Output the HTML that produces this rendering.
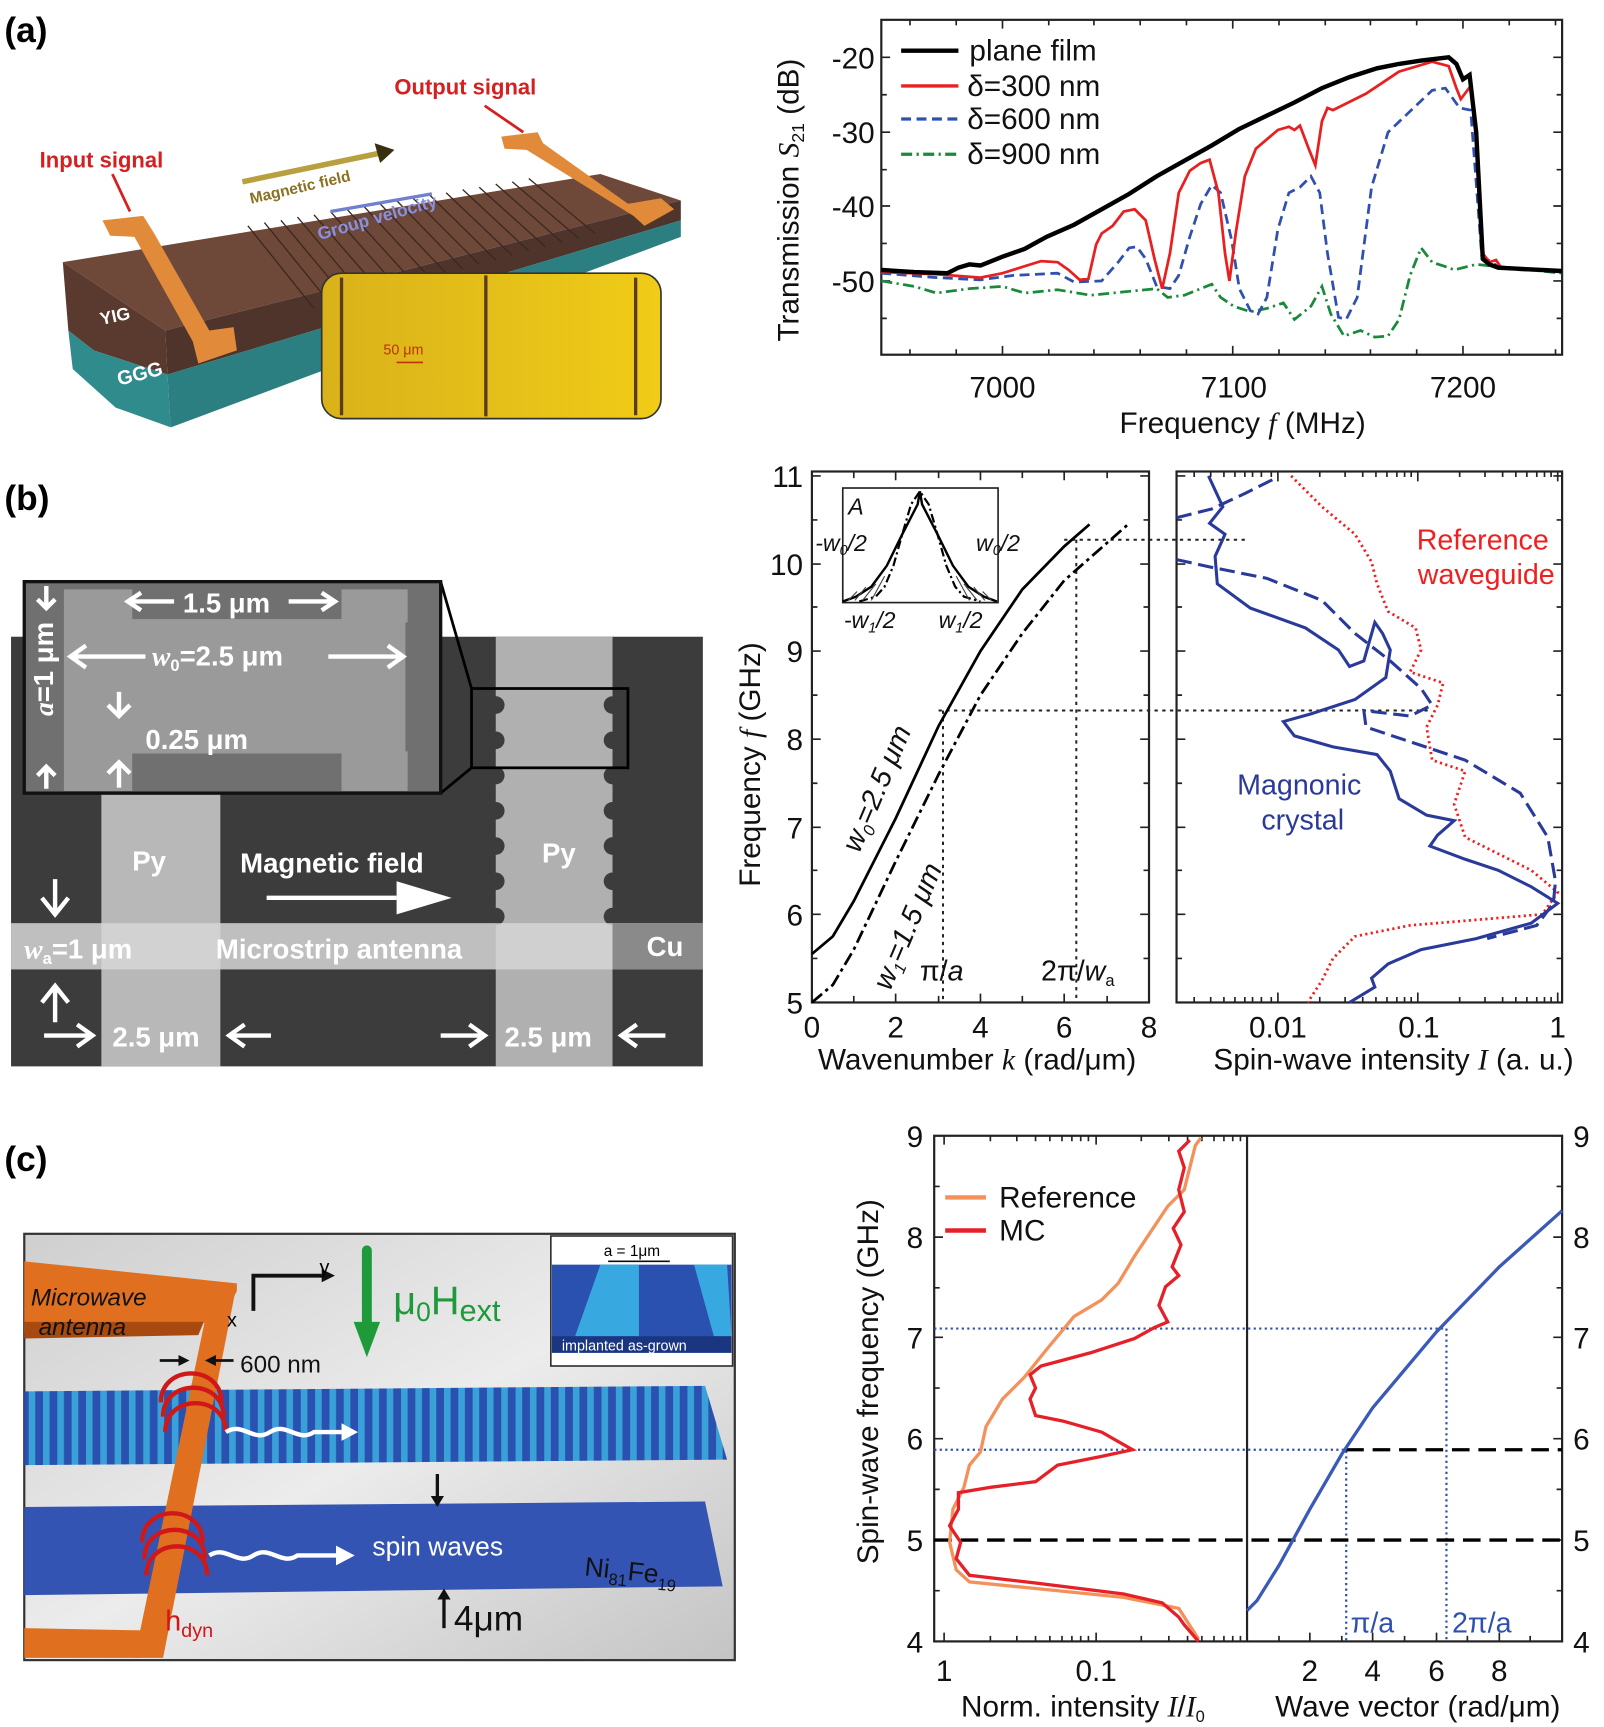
<!DOCTYPE html>
<html><head><meta charset="utf-8"><style>
html,body{margin:0;padding:0;background:#fff}
svg{display:block}
text{font-family:"Liberation Sans",Arial,sans-serif}
.t{font-size:27px;fill:#111}
</style></head><body>
<svg width="1604" height="1727" viewBox="0 0 1456 1567.7" xmlns="http://www.w3.org/2000/svg">
<defs>
<linearGradient id="gy" x1="0" x2="1"><stop offset="0" stop-color="#d9b21a"/><stop offset="1" stop-color="#f0cc18"/></linearGradient>
<linearGradient id="gc" x1="0" x2="1" y1="0" y2="1"><stop offset="0" stop-color="#cfcfcf"/><stop offset="0.5" stop-color="#ececec"/><stop offset="1" stop-color="#c4c4c4"/></linearGradient>
<pattern id="str" width="13" height="10" patternUnits="userSpaceOnUse"><rect width="13" height="10" fill="#2a50b0"/><rect width="6" height="10" fill="#3aa0d8"/></pattern>
</defs>

<!-- ===== (a) left illustration ===== -->
<text x="4" y="38" font-size="32" font-weight="bold">(a)</text>
<polygon points="57,238 545,158 618,182 150,300" fill="#6e4838"/>
<polygon points="57,238 150,300 152,340 85,318 62,300" fill="#5a3a2e"/>
<polygon points="62,300 85,318 152,340 155,388 105,370 66,335" fill="#2f8b8c"/>
<polygon points="150,300 618,182 618,200 152,340" fill="#4e342a"/>
<polygon points="152,340 618,200 618,215 155,388" fill="#2c7f80"/>
<g stroke="#3d281f" stroke-width="1.2">
<line x1="225" y1="205" x2="285" y2="280"/><line x1="240" y1="202" x2="300" y2="276"/><line x1="255" y1="200" x2="315" y2="272"/><line x1="270" y1="197" x2="330" y2="268"/><line x1="285" y1="195" x2="345" y2="264"/><line x1="300" y1="192" x2="360" y2="260"/><line x1="315" y1="190" x2="375" y2="256"/><line x1="330" y1="187" x2="390" y2="252"/><line x1="345" y1="185" x2="405" y2="248"/><line x1="360" y1="182" x2="420" y2="244"/><line x1="375" y1="180" x2="435" y2="240"/><line x1="390" y1="177" x2="450" y2="236"/><line x1="405" y1="175" x2="465" y2="232"/><line x1="420" y1="172" x2="480" y2="228"/><line x1="435" y1="170" x2="495" y2="224"/><line x1="450" y1="167" x2="510" y2="220"/><line x1="465" y1="165" x2="525" y2="216"/><line x1="480" y1="162" x2="540" y2="212"/>
</g>
<polygon points="93,200 130,196 140,212 190,300 212,297 215,318 180,330 175,310 122,215 100,214" fill="#e08a3a"/>
<polygon points="455,124 488,120 493,130 570,185 600,180 612,190 585,205 575,196 478,136 458,135" fill="#e08a3a"/>
<text x="36" y="152" font-size="20" font-weight="bold" fill="#d42020">Input signal</text>
<line x1="102" y1="158" x2="118" y2="192" stroke="#d42020" stroke-width="2.5"/>
<text x="358" y="86" font-size="20" font-weight="bold" fill="#d42020">Output signal</text>
<line x1="440" y1="96" x2="475" y2="120" stroke="#d42020" stroke-width="2.5"/>
<line x1="220" y1="165" x2="345" y2="139" stroke="#b8a040" stroke-width="5"/>
<polygon points="340,130 358,136 345,148" fill="#3a3010"/>
<text x="228" y="185" font-size="14" font-weight="bold" fill="#8a7020" transform="rotate(-13 228 185)">Magnetic field</text>
<line x1="300" y1="192" x2="392" y2="176" stroke="#7080d0" stroke-width="3"/>
<text x="290" y="218" font-size="16" font-weight="bold" fill="#8890e0" transform="rotate(-16 290 218)">Group velocity</text>
<text x="92" y="295" font-size="16" font-weight="bold" fill="#fff" transform="rotate(-12 92 295)">YIG</text>
<text x="108" y="350" font-size="18" font-weight="bold" fill="#fff" transform="rotate(-14 108 350)">GGG</text>
<rect x="292" y="248" width="308" height="132" rx="18" fill="url(#gy)" stroke="#333" stroke-width="1.5"/>
<g stroke="#5a3a20" stroke-width="3"><line x1="310" y1="252" x2="310" y2="377"/><line x1="441" y1="250" x2="441" y2="378"/><line x1="577" y1="252" x2="577" y2="377"/></g>
<text x="348" y="322" font-size="13" fill="#c03010">50 μm</text>
<line x1="360" y1="329" x2="384" y2="329" stroke="#c03010" stroke-width="1.5"/>

<!-- ===== (a) right plot ===== -->
<rect x="800" y="18" width="618" height="304" fill="none" stroke="#222" stroke-width="2"/>
<g stroke="#222" stroke-width="1.5">
<path d="M800,52h8M800,86h5M800,120h8M800,154h5M800,187h8M800,221h5M800,255h8M800,289h5"/>
<path d="M1418,52h-8M1418,86h-5M1418,120h-8M1418,154h-5M1418,187h-8M1418,221h-5M1418,255h-8M1418,289h-5"/>
<path d="M826,322v-5M868,322v-5M910,322v-8M952,322v-5M993,322v-5M1035,322v-5M1077,322v-5M1119,322v-8M1161,322v-5M1203,322v-5M1244,322v-5M1286,322v-5M1328,322v-8M1370,322v-5M1412,322v-5"/>
<path d="M826,18v5M868,18v5M910,18v8M952,18v5M993,18v5M1035,18v5M1077,18v5M1119,18v8M1161,18v5M1203,18v5M1244,18v5M1286,18v5M1328,18v8M1370,18v5M1412,18v5"/>
</g>
<g class="t" text-anchor="end"><text x="794" y="62">-20</text><text x="794" y="130">-30</text><text x="794" y="197">-40</text><text x="794" y="265">-50</text></g>
<g class="t" text-anchor="middle"><text x="910" y="361">7000</text><text x="1120" y="361">7100</text><text x="1328" y="361">7200</text></g>
<text class="t" x="1128" y="393" text-anchor="middle">Frequency <tspan font-family="Liberation Serif" font-style="italic">f</tspan> (MHz)</text>
<text class="t" transform="translate(725,310) rotate(-90)">Transmission <tspan font-family="Liberation Serif" font-style="italic">S</tspan><tspan font-size="16" dy="5">21</tspan><tspan dy="-5"> (dB)</tspan></text>
<polyline fill="none" stroke="#1a8a3a" stroke-width="2.5" stroke-dasharray="10,4,2,4" points="800,255 830,260 850,266 880,262 910,260 930,266 960,263 990,268 1020,265 1050,262 1060,270 1075,268 1090,262 1100,258 1108,270 1120,278 1135,283 1150,280 1165,275 1175,290 1190,278 1200,260 1208,285 1220,305 1235,300 1248,306 1260,305 1270,290 1280,250 1290,225 1300,238 1312,242 1320,245 1340,240 1418,248"/>
<polyline fill="none" stroke="#3050b0" stroke-width="2.5" stroke-dasharray="9,5" points="800,248 850,252 890,254 920,250 960,248 975,256 1000,255 1015,238 1025,225 1032,224 1040,235 1050,260 1062,262 1070,250 1080,215 1090,185 1100,168 1108,175 1118,218 1125,262 1135,282 1142,285 1150,270 1160,208 1170,175 1180,170 1190,160 1198,175 1205,230 1215,288 1222,290 1232,270 1245,170 1260,120 1300,82 1312,80 1325,98 1335,100 1345,232 1360,242 1418,247"/>
<polyline fill="none" stroke="#e82020" stroke-width="2.5" points="800,247 850,249 890,252 910,248 945,237 960,238 970,245 980,254 988,253 995,222 1000,212 1010,205 1020,192 1030,190 1040,200 1048,235 1055,262 1062,230 1070,175 1080,155 1090,148 1098,145 1106,175 1112,230 1116,255 1122,210 1130,160 1140,135 1160,118 1170,115 1175,118 1180,114 1188,135 1194,150 1200,110 1205,98 1210,100 1240,85 1270,65 1300,56 1315,60 1322,80 1326,90 1335,78 1340,118 1346,230 1352,238 1358,236 1362,242 1380,245 1418,246"/>
<polyline fill="none" stroke="#000" stroke-width="4" points="800,245 830,247 860,248 870,243 880,240 890,241 910,233 930,226 950,215 975,204 1000,190 1025,176 1050,160 1075,146 1100,132 1125,117 1150,105 1175,93 1200,80 1225,70 1250,62 1270,58 1290,55 1315,52 1322,58 1328,72 1334,68 1340,120 1346,235 1352,240 1360,243 1418,246"/>
<g stroke-width="3"><line x1="818" y1="46" x2="870" y2="46" stroke="#000" stroke-width="4"/><line x1="818" y1="78" x2="870" y2="78" stroke="#e82020"/><line x1="818" y1="108" x2="870" y2="108" stroke="#3050b0" stroke-dasharray="9,5"/><line x1="818" y1="140" x2="870" y2="140" stroke="#1a8a3a" stroke-dasharray="10,4,2,4"/></g>
<g class="t" font-size="26"><text x="880" y="55">plane film</text><text x="878" y="87">δ=300 nm</text><text x="878" y="117">δ=600 nm</text><text x="878" y="149">δ=900 nm</text></g>

<!-- ===== (b) left image ===== -->
<text x="4" y="463" font-size="32" font-weight="bold">(b)</text>
<rect x="10" y="578" width="628" height="390" fill="#3c3c3c"/>
<rect x="92" y="578" width="108" height="390" fill="#b8b8b8"/>
<path d="M450,578 h106 v390 h-106 z" fill="#b0b0b0"/>
<g fill="#3c3c3c"><circle cx="450" cy="640" r="8"/><circle cx="450" cy="672" r="8"/><circle cx="450" cy="704" r="8"/><circle cx="450" cy="736" r="8"/><circle cx="450" cy="768" r="8"/><circle cx="450" cy="800" r="8"/><circle cx="450" cy="832" r="8"/><circle cx="556" cy="640" r="8"/><circle cx="556" cy="672" r="8"/><circle cx="556" cy="704" r="8"/><circle cx="556" cy="736" r="8"/><circle cx="556" cy="768" r="8"/><circle cx="556" cy="800" r="8"/><circle cx="556" cy="832" r="8"/></g>
<rect x="10" y="838" width="628" height="42" fill="#d6d6d6" opacity="0.85"/>
<rect x="556" y="838" width="82" height="42" fill="#8a8a8a"/>
<rect x="428" y="625" width="142" height="72" fill="none" stroke="#000" stroke-width="2.5"/>
<line x1="400" y1="528" x2="428" y2="625" stroke="#000" stroke-width="2.5"/>
<line x1="400" y1="720" x2="428" y2="697" stroke="#000" stroke-width="2.5"/>
<rect x="22" y="528" width="378" height="192" fill="#707070" stroke="#111" stroke-width="3"/>
<rect x="58" y="562" width="310" height="122" fill="#9a9a9a"/>
<rect x="58" y="535" width="62" height="30" fill="#9a9a9a"/><rect x="310" y="535" width="60" height="30" fill="#9a9a9a"/>
<rect x="58" y="682" width="62" height="36" fill="#9a9a9a"/><rect x="310" y="682" width="60" height="36" fill="#9a9a9a"/>
<g fill="#fff" font-weight="bold" font-size="25">
<text x="166" y="556">1.5 μm</text><text x="138" y="604"><tspan font-family="Liberation Serif" font-style="italic">w</tspan><tspan font-size="15" dy="5">0</tspan><tspan dy="-5">=2.5 μm</tspan></text>
<text x="132" y="680">0.25 μm</text>
<text x="48" y="650" transform="rotate(-90 48 650)"><tspan font-family="Liberation Serif" font-style="italic">a</tspan>=1 μm</text>
<text x="120" y="790">Py</text><text x="492" y="783">Py</text><text x="218" y="792">Magnetic field</text>
<text x="22" y="870"><tspan font-family="Liberation Serif" font-style="italic">w</tspan><tspan font-size="15" dy="5">a</tspan><tspan dy="-5">=1 μm</tspan></text>
<text x="196" y="870">Microstrip antenna</text><text x="587" y="868">Cu</text>
<text x="102" y="950">2.5 μm</text><text x="458" y="950">2.5 μm</text>
</g>
<g stroke="#fff" stroke-width="4" fill="none">
<path d="M242,815 H360"/><path d="M50,798 v30 M38,815 l12,15 l12,-15"/><path d="M50,928 v-30 M38,910 l12,-15 l12,15"/>
<path d="M40,940 h44 M70,930 l14,10 l-14,10"/><path d="M246,940 h-36 M222,930 l-14,10 l14,10"/>
<path d="M400,940 h38 M426,930 l14,10 l-14,10"/><path d="M604,940 h-38 M578,930 l-14,10 l14,10"/>
<path d="M118,546 h40 M128,538 l-12,8 l12,8"/><path d="M302,546 h-40 M292,538 l12,8 l-12,8"/>
<path d="M66,596 h66 M78,586 l-14,10 l14,10"/><path d="M298,596 h66 M352,586 l14,10 l-14,10"/>
<path d="M108,628 v20 M98,640 l10,10 l10,-10"/><path d="M108,715 v-20 M98,702 l10,-10 l10,10"/>
<path d="M42,532 v18 M34,544 l8,8 l8,-8"/><path d="M42,716 v-18 M34,704 l8,-8 l8,8"/>
</g>
<polygon points="360,800 410,815 360,830" fill="#fff"/>

<!-- ===== (b) dispersion plot ===== -->
<rect x="737" y="428" width="306" height="482" fill="none" stroke="#222" stroke-width="2"/>
<g stroke="#222" stroke-width="1.5">
<path d="M737,910h8M737,870h5M737,830h8M737,790h5M737,751h8M737,711h5M737,671h8M737,631h5M737,591h8M737,551h5M737,512h8M737,472h5M737,432h8"/>
<path d="M1043,910h-8M1043,870h-5M1043,830h-8M1043,790h-5M1043,751h-8M1043,711h-5M1043,671h-8M1043,631h-5M1043,591h-8M1043,551h-5M1043,512h-8M1043,472h-5M1043,432h-8"/>
<path d="M775,910v-6M813,910v-8M852,910v-6M890,910v-8M928,910v-6M966,910v-8M1005,910v-6"/>
<path d="M775,428v6M813,428v8M852,428v6M890,428v8M928,428v6M966,428v8M1005,428v6"/>
</g>
<g class="t" text-anchor="end" font-size="28"><text x="729" y="920">5</text><text x="729" y="840">6</text><text x="729" y="761">7</text><text x="729" y="681">8</text><text x="729" y="601">9</text><text x="729" y="522">10</text><text x="729" y="442">11</text></g>
<g class="t" text-anchor="middle" font-size="28"><text x="737" y="942">0</text><text x="813" y="942">2</text><text x="890" y="942">4</text><text x="966" y="942">6</text><text x="1043" y="942">8</text></g>
<text class="t" x="887" y="971" text-anchor="middle">Wavenumber <tspan font-family="Liberation Serif" font-style="italic">k</tspan> (rad/μm)</text>
<text class="t" transform="translate(690,805) rotate(-90)">Frequency <tspan font-family="Liberation Serif" font-style="italic">f</tspan>  (GHz)</text>
<g stroke="#222" stroke-width="1.8" stroke-dasharray="3,4" fill="none">
<path d="M966,490H1132"/><path d="M852,645H1300"/><path d="M856,645V910"/><path d="M977,490V910"/>
</g>
<polyline fill="none" stroke="#000" stroke-width="2.5" points="737,866 756,850 775,818 813,743 852,659 890,591 928,535 966,496 989,476"/>
<polyline fill="none" stroke="#000" stroke-width="2.5" stroke-dasharray="12,4,3,4" points="737,910 756,894 775,862 813,782 852,703 890,631 928,575 966,527 1024,476"/>
<g font-family="Liberation Serif" font-style="italic" font-size="26" fill="#111">
<text transform="translate(780,775) rotate(-67)">w<tspan font-size="15" dy="5">0</tspan><tspan dy="-5">=2.5 μm</tspan></text>
<text transform="translate(808,900) rotate(-67)">w<tspan font-size="15" dy="5">1</tspan><tspan dy="-5">=1.5 μm</tspan></text>
<text x="835" y="890" font-style="normal">π/<tspan font-style="italic">a</tspan></text>
<text x="945" y="890" font-style="normal">2π/<tspan font-style="italic">w</tspan><tspan font-size="15" dy="5" font-style="normal">a</tspan></text>
</g>
<rect x="765" y="443" width="141" height="104" fill="#fff" stroke="#222" stroke-width="1.5"/>
<polyline fill="none" stroke="#000" stroke-width="2.2" points="765,546 777,541.6 791,532.5 805,513.5 819,485 833,457.8 835,446 837,457.8 851,485 865,513.5 879,532.5 893,541.6 905,546"/>
<polyline fill="none" stroke="#000" stroke-width="2" stroke-dasharray="8,3,2,3" points="780,546 795,541.6 803,532.5 811,513.5 819,485 827,457.8 835,446 843,457.8 851,485 859,513.5 867,532.5 875,541.6 890,546"/>
<g stroke="#444" stroke-width="1"><path d="M770,545l8,-8M776,545l10,-12M783,545l12,-15M791,545l12,-22M900,545l-8,-8M894,545l-10,-12M887,545l-12,-15M880,545l-12,-22"/></g>
<g font-family="Liberation Serif" font-style="italic" font-size="21" fill="#111">
<text x="770" y="467">A</text><text x="740" y="500">-w<tspan font-size="13" dy="4">0</tspan><tspan dy="-4">/2</tspan></text><text x="886" y="500">w<tspan font-size="13" dy="4">0</tspan><tspan dy="-4">/2</tspan></text>
<text x="766" y="570">-w<tspan font-size="13" dy="4">1</tspan><tspan dy="-4">/2</tspan></text><text x="852" y="570">w<tspan font-size="13" dy="4">1</tspan><tspan dy="-4">/2</tspan></text>
</g>

<!-- ===== (b) intensity plot ===== -->
<rect x="1068" y="428" width="350" height="482" fill="none" stroke="#222" stroke-width="2"/>
<g stroke="#222" stroke-width="1.5">
<path d="M1068,910h8M1068,870h5M1068,830h8M1068,790h5M1068,751h8M1068,711h5M1068,671h8M1068,631h5M1068,591h8M1068,551h5M1068,512h8M1068,472h5M1068,432h8"/>
<path d="M1418,910h-8M1418,870h-5M1418,830h-8M1418,790h-5M1418,751h-8M1418,711h-5M1418,671h-8M1418,631h-5M1418,591h-8M1418,551h-5M1418,512h-8M1418,472h-5M1418,432h-8"/>
<path d="M1084,910v-5M1099,910v-5M1111,910v-5M1121,910v-5M1130,910v-5M1137,910v-5M1145,910v-5M1154,910v-5M1160,910v-9M1198,910v-5M1221,910v-5M1237,910v-5M1249,910v-5M1259,910v-5M1268,910v-5M1275,910v-5M1281,910v-5M1287,910v-9M1325,910v-5M1348,910v-5M1364,910v-5M1376,910v-5M1386,910v-5M1395,910v-5M1402,910v-5M1408,910v-5M1414,910v-9"/>
<path d="M1084,428v5M1099,428v5M1111,428v5M1121,428v5M1130,428v5M1137,428v5M1145,428v5M1154,428v5M1160,428v9M1198,428v5M1221,428v5M1237,428v5M1249,428v5M1259,428v5M1268,428v5M1275,428v5M1281,428v5M1287,428v9M1325,428v5M1348,428v5M1364,428v5M1376,428v5M1386,428v5M1395,428v5M1402,428v5M1408,428v5M1414,428v9"/>
</g>
<g class="t" text-anchor="middle" font-size="28"><text x="1160" y="942">0.01</text><text x="1288" y="942">0.1</text><text x="1414" y="942">1</text></g>
<text class="t" x="1265" y="971" text-anchor="middle">Spin-wave intensity <tspan font-family="Liberation Serif" font-style="italic">I</tspan> (a. u.)</text>
<polyline fill="none" stroke="#f02020" stroke-width="2.5" stroke-dasharray="2,3" points="1172,432 1200,460 1230,485 1245,510 1250,530 1260,555 1285,570 1290,590 1280,610 1310,620 1305,640 1295,660 1300,690 1330,700 1320,730 1330,760 1360,775 1390,790 1414,810 1400,830 1340,835 1280,840 1230,850 1210,870 1200,890 1187,910"/>
<g fill="none" stroke="#2a3a9a" stroke-width="2.8">
<polyline stroke-dasharray="14,6" points="1068,470 1100,462 1130,448 1160,433"/>
<polyline stroke-dasharray="14,6" points="1068,508 1100,515 1150,525 1200,545 1230,575 1262,600 1290,625 1300,640 1280,650 1238,645 1240,660 1270,670 1330,690 1380,720 1405,760 1412,800 1410,820 1395,840 1350,852"/>
<polyline points="1097,432 1110,460 1098,475 1112,485 1103,505 1105,530 1135,552 1185,570 1215,590 1225,605 1238,600 1248,565 1255,575 1262,590 1258,615 1230,635 1190,648 1165,655 1175,668 1210,678 1250,685 1262,700 1270,725 1295,740 1320,745 1305,758 1298,768 1330,780 1360,790 1390,805 1414,820 1390,838 1340,852 1290,862 1260,875 1245,888 1248,896 1225,910"/>
</g>
<g font-size="26"><text x="1286" y="499" fill="#f02020">Reference</text><text x="1287" y="530" fill="#f02020">waveguide</text><text x="1123" y="721" fill="#2a3a9a">Magnonic</text><text x="1145" y="753" fill="#2a3a9a">crystal</text></g>

<!-- ===== (c) left illustration ===== -->
<text x="4" y="1063" font-size="32" font-weight="bold">(c)</text>
<rect x="22" y="1120" width="645" height="387" fill="url(#gc)" stroke="#333" stroke-width="2"/>
<polygon points="22,1263 640,1258 660,1325 22,1330" fill="url(#str)"/>
<polygon points="22,1368 640,1363 656,1440 22,1448" fill="#3454b4"/>
<polygon points="22,1145 215,1165 215,1172 200,1200 22,1210" fill="#e07020"/>
<polygon points="22,1200 185,1200 180,1212 22,1215" fill="#a84a10"/>
<polygon points="192,1170 215,1165 148,1505 122,1505" fill="#e07020"/>
<polygon points="22,1478 130,1480 126,1505 22,1505" fill="#e07020"/>
<g font-style="italic" font-size="22" fill="#111"><text x="28" y="1185">Microwave</text><text x="35" y="1212">antenna</text></g>
<text x="218" y="1246" font-size="22" fill="#111">600 nm</text>
<path d="M145,1235h22M212,1235h-22" stroke="#111" stroke-width="2.5"/>
<polygon points="172,1235 162,1230 162,1240" fill="#111"/><polygon points="186,1235 196,1230 196,1240" fill="#111"/>
<path d="M230,1190V1158H292" stroke="#111" stroke-width="3.5" fill="none"/><polygon points="292,1152 304,1158 292,1164" fill="#111"/>
<text x="290" y="1156" font-size="18">y</text><text x="206" y="1204" font-size="18">x</text>
<line x1="333" y1="1135" x2="333" y2="1205" stroke="#1f9a3a" stroke-width="9" stroke-linecap="round"/>
<polygon points="321,1200 345,1200 333,1232" fill="#1f9a3a"/>
<text x="357" y="1193" font-size="36" fill="#1f9a3a">μ<tspan font-size="24" dy="6">0</tspan><tspan dy="-6">H</tspan><tspan font-size="28" dy="6">ext</tspan></text>
<rect x="500" y="1122" width="165" height="118" fill="#fff" stroke="#333" stroke-width="1.5"/>
<rect x="501" y="1148" width="163" height="80" fill="#2a50b0"/>
<polygon points="545,1148 580,1148 580,1213 522,1213" fill="#38a8e0"/><polygon points="630,1148 660,1148 664,1213 648,1213" fill="#38a8e0"/>
<rect x="501" y="1213" width="163" height="15" fill="#1a3680"/>
<text x="510" y="1226" font-size="13" fill="#fff">implanted as-grown</text>
<text x="548" y="1140" font-size="14">a = 1μm</text><path d="M552,1145h56" stroke="#111" stroke-width="1.5"/>
<g fill="none" stroke="#d01818" stroke-width="4">
<path d="M150,1300c0,-35 55,-35 55,0M148,1286c0,-35 55,-35 55,0M146,1273c0,-35 55,-35 55,0"/>
<path d="M133,1430c0,-35 55,-35 55,0M131,1415c0,-35 55,-35 55,0M129,1400c0,-35 55,-35 55,0"/>
</g>
<path d="M205,1300c15,-10 25,10 40,0c15,-10 25,10 40,0h25" stroke="#fff" stroke-width="4" fill="none"/><polygon points="310,1292 325,1300 310,1308" fill="#fff"/>
<path d="M190,1412c15,-10 25,10 40,0c15,-10 25,10 40,0h40" stroke="#fff" stroke-width="4" fill="none"/><polygon points="305,1403 322,1412 305,1421" fill="#fff"/>
<text x="338" y="1412" font-size="24" fill="#fff">spin waves</text>
<text x="530" y="1430" font-size="24" fill="#111" transform="rotate(6 530 1430)">Ni<tspan font-size="15" dy="6">81</tspan><tspan dy="-6">Fe</tspan><tspan font-size="15" dy="6">19</tspan></text>
<text x="150" y="1480" font-size="26" fill="#d01818">h<tspan font-size="18" dy="6">dyn</tspan></text>
<text x="412" y="1480" font-size="32" fill="#111">4μm</text>
<path d="M397,1338v22M403,1478v-28" stroke="#111" stroke-width="3"/>
<polygon points="391,1358 403,1358 397,1368" fill="#111"/><polygon points="397,1452 409,1452 403,1442" fill="#111"/>

<!-- ===== (c) plots ===== -->
<rect x="848" y="1031" width="570" height="459" fill="none" stroke="#222" stroke-width="2"/>
<line x1="1132" y1="1031" x2="1132" y2="1490" stroke="#222" stroke-width="2"/>
<g stroke="#222" stroke-width="1.5">
<path d="M848,1490h8M848,1444h5M848,1398h8M848,1352h5M848,1306h8M848,1260h5M848,1214h8M848,1169h5M848,1123h8M848,1077h5M848,1031h8"/>
<path d="M1418,1490h-8M1418,1444h-5M1418,1398h-8M1418,1352h-5M1418,1306h-8M1418,1260h-5M1418,1214h-8M1418,1169h-5M1418,1123h-8M1418,1077h-5M1418,1031h-8"/>
<path d="M857,1490v-8M899,1490v-5M923,1490v-5M940,1490v-5M953,1490v-5M964,1490v-5M973,1490v-5M981,1490v-5M988,1490v-5M995,1490v-8M1036,1490v-5M1061,1490v-5M1078,1490v-5M1091,1490v-5M1102,1490v-5M1111,1490v-5M1119,1490v-5M1126,1490v-5"/>
<path d="M857,1031v8M899,1031v5M923,1031v5M940,1031v5M953,1031v5M964,1031v5M973,1031v5M981,1031v5M988,1031v5M995,1031v8M1036,1031v5M1061,1031v5M1078,1031v5M1091,1031v5M1102,1031v5M1111,1031v5M1119,1031v5M1126,1031v5"/>
<path d="M1161,1490v-5M1189,1490v-8M1218,1490v-5M1246,1490v-8M1275,1490v-5M1304,1490v-8M1332,1490v-5M1361,1490v-8M1389,1490v-5"/>
</g>
<g class="t" font-size="28" text-anchor="end"><text x="838" y="1500">4</text><text x="838" y="1408">5</text><text x="838" y="1316">6</text><text x="838" y="1224">7</text><text x="838" y="1133">8</text><text x="838" y="1041">9</text></g>
<g class="t" font-size="28"><text x="1428" y="1500">4</text><text x="1428" y="1408">5</text><text x="1428" y="1316">6</text><text x="1428" y="1224">7</text><text x="1428" y="1133">8</text><text x="1428" y="1041">9</text></g>
<g class="t" font-size="28" text-anchor="middle"><text x="857" y="1526">1</text><text x="995" y="1526">0.1</text><text x="1189" y="1526">2</text><text x="1246" y="1526">4</text><text x="1304" y="1526">6</text><text x="1361" y="1526">8</text></g>
<text class="t" x="983" y="1558" text-anchor="middle">Norm. intensity <tspan font-family="Liberation Serif" font-style="italic">I</tspan>/<tspan font-family="Liberation Serif" font-style="italic">I</tspan><tspan font-size="15" dy="5">0</tspan></text>
<text class="t" x="1287" y="1558" text-anchor="middle">Wave vector (rad/μm)</text>
<text class="t" transform="translate(797,1420) rotate(-90)">Spin-wave frequency (GHz)</text>
<g stroke="#3050b0" stroke-width="2" stroke-dasharray="2,3" fill="none"><path d="M848,1206H1313V1490"/><path d="M848,1316H1222V1490"/></g>
<g stroke="#000" stroke-width="3" stroke-dasharray="16,8"><path d="M848,1398H1418"/><path d="M1222,1316H1418"/></g>
<polyline fill="none" stroke="#3a5ab8" stroke-width="3" points="1132,1462 1141,1453 1161,1421 1189,1370 1218,1320 1246,1278 1304,1209 1361,1150 1418,1099"/>
<polyline fill="none" stroke="#f4915a" stroke-width="3" points="1088,1488 1070,1460 1020,1450 940,1442 880,1436 868,1425 862,1400 865,1370 875,1350 880,1330 890,1318 895,1295 910,1270 930,1250 950,1225 975,1195 1000,1180 1015,1165 1030,1140 1050,1110 1060,1095 1075,1080 1080,1060 1085,1040 1090,1033"/>
<polyline fill="none" stroke="#e62028" stroke-width="3" points="1088,1490 1075,1475 1070,1468 1055,1455 1020,1447 940,1437 880,1430 868,1415 872,1400 862,1385 870,1370 870,1355 900,1350 940,1345 960,1330 1000,1322 1028,1316 1000,1300 965,1290 940,1285 935,1270 940,1260 935,1248 945,1240 990,1228 1030,1215 1048,1205 1060,1200 1052,1185 1058,1168 1070,1158 1064,1150 1072,1130 1065,1115 1075,1100 1070,1080 1075,1060 1070,1045 1080,1035"/>
<g font-size="26" fill="#3050b0"><text x="1226" y="1482">π/a</text><text x="1318" y="1482">2π/a</text></g>
<line x1="858" y1="1087" x2="895" y2="1087" stroke="#f4915a" stroke-width="4"/>
<line x1="858" y1="1117" x2="895" y2="1117" stroke="#e62028" stroke-width="4"/>
<g class="t" font-size="26"><text x="907" y="1096">Reference</text><text x="907" y="1126">MC</text></g>
</svg>
</body></html>
